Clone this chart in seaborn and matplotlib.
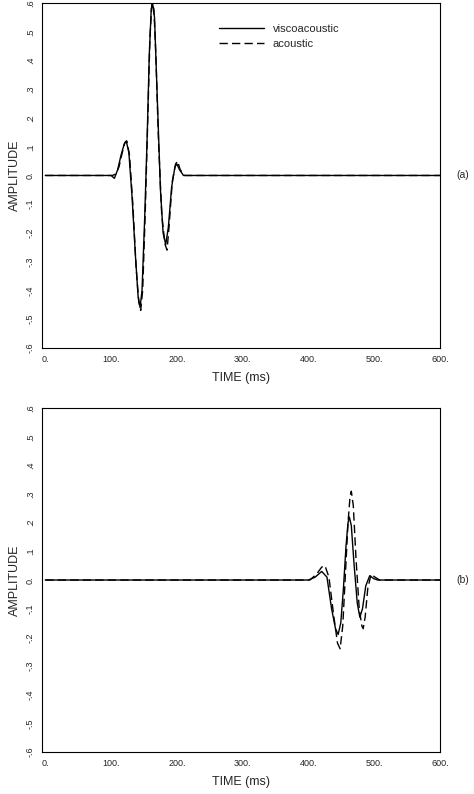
import matplotlib
matplotlib.use("Agg")
import matplotlib.pyplot as plt
import seaborn as sns
import pandas as pd

sns.set_theme(style="white")
plt.rcParams['font.family'] = ['Liberation Sans', 'DejaVu Sans']

a_visco_t = [0,100,105,110,115,120,123,127,132,137,141,144,147,151,155,158,161,163,166,170,175,179,183,187,192,197,200,204,210,600]
a_visco_v = [0,0,-0.01,0.02,0.07,0.11,0.12,0.08,-0.08,-0.28,-0.42,-0.46,-0.40,-0.15,0.15,0.42,0.58,0.60,0.55,0.28,-0.05,-0.20,-0.24,-0.18,-0.04,0.03,0.04,0.02,0,0]
a_ac_t = [0,102,107,112,117,121,124,128,133,138,142,145,148,152,156,159,162,165,168,172,177,182,185,188,193,198,201,205,212,600]
a_ac_v = [0,0,0.005,0.03,0.08,0.115,0.12,0.07,-0.10,-0.32,-0.44,-0.47,-0.40,-0.12,0.22,0.48,0.60,0.58,0.42,0.12,-0.14,-0.24,-0.26,-0.18,-0.02,0.04,0.05,0.02,0,0]

b_visco_t = [0,400,410,420,428,435,441,445,449,453,457,460,462,465,469,474,478,482,487,493,499,505,600]
b_visco_v = [0,0,0.01,0.03,0.01,-0.10,-0.17,-0.19,-0.15,-0.03,0.12,0.20,0.22,0.19,0.06,-0.08,-0.13,-0.10,-0.02,0.015,0.005,0,0]
b_ac_t = [0,402,412,420,425,431,438,444,448,452,456,460,463,465,468,472,477,481,483,486,490,495,501,508,600]
b_ac_v = [0,0,0.02,0.045,0.05,0.01,-0.12,-0.22,-0.24,-0.16,0.02,0.20,0.29,0.31,0.26,0.08,-0.10,-0.16,-0.17,-0.13,-0.03,0.02,0.01,0,0]

xticks = [0,100,200,300,400,500,600]
xticklabels = ['0.','100.','200.','300.','400.','500.','600.']
yticks = [-0.6,-0.5,-0.4,-0.3,-0.2,-0.1,0,0.1,0.2,0.3,0.4,0.5,0.6]
yticklabels = ['-.6','-.5','-.4','-.3','-.2','-.1','0.','.1','.2','.3','.4','.5','.6']

fig = plt.figure(figsize=(4.74,7.94), dpi=100)
axa = fig.add_axes([0.0886,0.562,0.84,0.434])
axb = fig.add_axes([0.0886,0.053,0.84,0.433])

def draw(ax, vt, vv, at, av, tag, legend):
    sns.lineplot(x=vt, y=vv, ax=ax, color='black', lw=1.0, label='viscoacoustic' if legend else None)
    sns.lineplot(x=at, y=av, ax=ax, color='black', lw=1.0, linestyle=(0,(6,3)), label='acoustic' if legend else None)
    ax.set_xlim(-5,600); ax.set_ylim(-0.6,0.6)
    ax.set_xticks(xticks); ax.set_xticklabels(xticklabels, fontsize=6.5)
    ax.set_yticks(yticks); ax.set_yticklabels(yticklabels, fontsize=6.5, rotation=90, va='center')
    ax.tick_params(direction='out', length=3, width=0.8, color='black', pad=2)
    for s in ax.spines.values():
        s.set_color('black'); s.set_linewidth(0.8)
    ax.set_xlabel('TIME (ms)', fontsize=9, labelpad=6)
    ax.set_ylabel('AMPLITUDE', fontsize=9, labelpad=4)
    ax.text(1.04, 0.5, tag, transform=ax.transAxes, fontsize=7.5, va='center')

draw(axa, a_visco_t, a_visco_v, a_ac_t, a_ac_v, '(a)', True)
draw(axb, b_visco_t, b_visco_v, b_ac_t, b_ac_v, '(b)', False)
axa.legend(loc='upper left', bbox_to_anchor=(0.42,0.97), frameon=False, fontsize=8, handlelength=4)

fig.savefig('out.png', dpi=100)
